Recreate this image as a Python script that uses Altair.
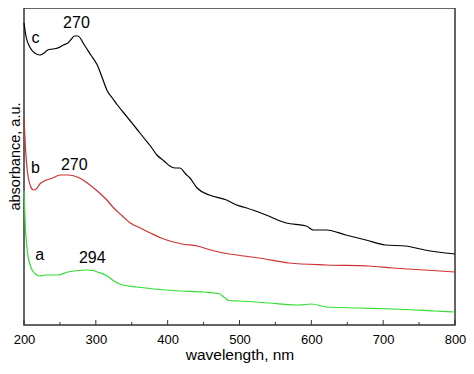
import altair as alt
import pandas as pd

# Series c (black)
c_wl = [200, 203, 208, 215, 222, 228, 233, 240, 247, 255, 261, 266, 270, 275, 284, 293, 302, 309, 316,
        323, 330, 339, 348, 357, 367, 376, 385, 395, 403, 410, 417, 425, 431, 441, 458, 482, 496, 510, 537, 565,
        593, 603, 621, 648, 676, 703, 731, 758, 800]
c_ab = [3.02, 2.88, 2.78, 2.72, 2.70, 2.72, 2.75, 2.76, 2.77, 2.80, 2.82, 2.86, 2.89, 2.89, 2.80, 2.70, 2.60,
        2.47, 2.34, 2.27, 2.20, 2.12, 2.04, 1.96, 1.87, 1.79, 1.70, 1.64, 1.59, 1.57, 1.57, 1.51, 1.47, 1.37, 1.30,
        1.25, 1.20, 1.17, 1.10, 1.02, 0.99, 0.95, 0.95, 0.90, 0.85, 0.80, 0.79, 0.75, 0.71]

# Series b (red)
b_wl = [200, 202, 205, 209, 213, 217, 222, 228, 240, 250, 261, 270, 280, 290, 302, 314, 325, 337, 348, 362,
        376, 391, 403, 420, 441, 460, 478, 496, 527, 569, 621, 680, 713, 758, 800]
b_ab = [2.07, 1.77, 1.52, 1.39, 1.35, 1.36, 1.41, 1.44, 1.47, 1.50, 1.50, 1.49, 1.46, 1.41, 1.34, 1.26, 1.17,
        1.09, 1.02, 0.97, 0.92, 0.87, 0.84, 0.81, 0.79, 0.75, 0.72, 0.70, 0.67, 0.62, 0.60, 0.59, 0.57, 0.55, 0.53]

# Series a (green)
a_wl = [200, 202, 205, 210, 216, 222, 230, 247, 261, 275, 288, 296, 302, 316, 325, 337, 357, 381, 417, 450,
        464, 471, 480, 485, 500, 541, 583, 600, 621, 666, 713, 772, 800]
a_ab = [1.34, 0.97, 0.72, 0.57, 0.51, 0.49, 0.50, 0.50, 0.53, 0.545, 0.55, 0.545, 0.53, 0.49, 0.44, 0.40, 0.38,
        0.36, 0.34, 0.33, 0.32, 0.315, 0.27, 0.245, 0.24, 0.22, 0.20, 0.21, 0.18, 0.17, 0.16, 0.14, 0.13]

# Annotations
ann_text = ["c", "270", "b", "270", "a", "294"]
ann_x = [216, 273, 216, 270, 222, 295]
ann_y = [2.87, 3.02, 1.57, 1.60, 0.70, 0.67]

major_ticks = [200, 300, 400, 500, 600, 700, 800]
minor_ticks = [250, 350, 450, 550, 650, 750]

rows = []
for name, wl, ab in [("c", c_wl, c_ab), ("b", b_wl, b_ab), ("a", a_wl, a_ab)]:
    for w, v in zip(wl, ab):
        rows.append({"series": name, "wl": w, "ab": v})
df = pd.DataFrame(rows)
ann = pd.DataFrame({"t": ann_text, "wl": ann_x, "ab": ann_y})

W, H = 431, 317
xs = alt.Scale(domain=[200, 800], nice=False, zero=False)
ys = alt.Scale(domain=[0, 3.17], nice=False, zero=False)

lines = alt.Chart(df).mark_line(strokeWidth=1.2, interpolate="monotone").encode(
    x=alt.X("wl:Q", scale=xs,
            axis=alt.Axis(title="wavelength, nm", values=major_ticks, format="d", grid=False, ticks=False,
                          domain=False, labelFlush=False, labelPadding=8, labelFontSize=13, titleFontSize=15.5,
                          titleFontWeight="normal", titleY=22, labelColor="black", titleColor="black",
                          labelFont="Liberation Sans", titleFont="Liberation Sans")),
    y=alt.Y("ab:Q", scale=ys,
            axis=alt.Axis(title="absorbance, a.u.", labels=False, ticks=False, grid=False, domain=False,
                          titleFontSize=14.5, titleFontWeight="normal", titleX=-2, titleY=148,
                          titleBaseline="bottom", titleColor="black", titleFont="Liberation Sans")),
    color=alt.Color("series:N", scale=alt.Scale(domain=["c", "b", "a"],
                                                range=["#000000", "#d03030", "#33dd33"]), legend=None),
)

texts = alt.Chart(ann).mark_text(fontSize=16, font="Liberation Sans", color="black", baseline="middle").encode(
    x=alt.X("wl:Q", scale=xs), y=alt.Y("ab:Q", scale=ys), text="t:N")

tk_major = alt.Chart(pd.DataFrame({"wl": major_ticks})).mark_rule(color="#333333", strokeWidth=1).encode(
    x=alt.X("wl:Q", scale=xs), y=alt.value(H), y2=alt.value(H - 5))
tk_minor = alt.Chart(pd.DataFrame({"wl": minor_ticks})).mark_rule(color="#333333", strokeWidth=1).encode(
    x=alt.X("wl:Q", scale=xs), y=alt.value(H), y2=alt.value(H - 3))

chart = alt.layer(lines, texts, tk_major, tk_minor).properties(
    width=W, height=H,
    autosize=alt.AutoSizeParams(type="none"),
    padding={"left": 16, "top": 0, "right": 11, "bottom": 38},
).configure_view(stroke="#333333", strokeWidth=1.5)

chart.save("out.html", embed_options={"renderer": "svg", "actions": False})
